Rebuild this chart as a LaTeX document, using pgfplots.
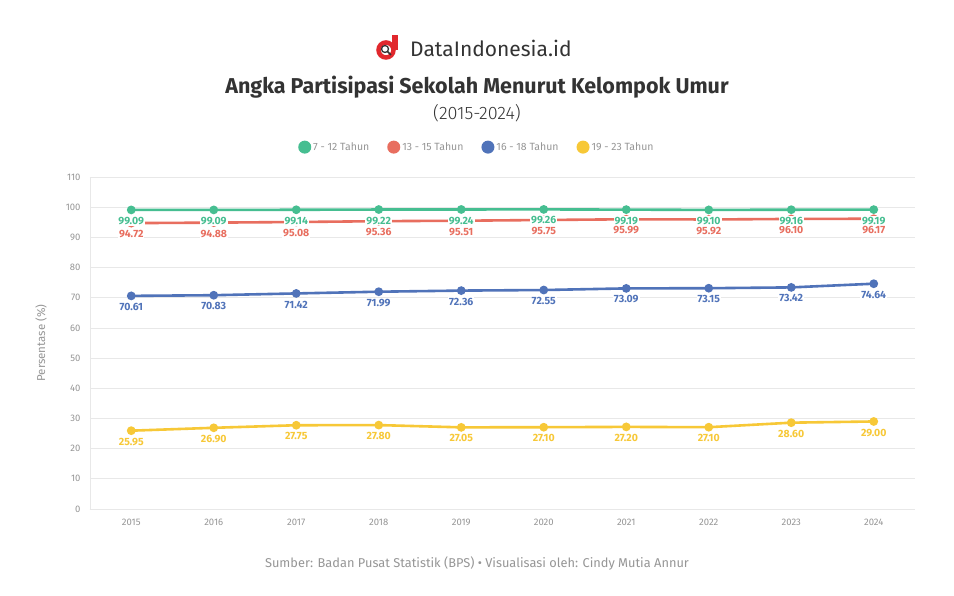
\documentclass[border=0pt]{standalone}
\usepackage{fontspec}
\setmainfont{Fira Sans}
\usepackage{pgfplots}
\pgfplotsset{compat=1.18}
\definecolor{cgreen}{RGB}{70,190,145}
\definecolor{cred}{RGB}{232,110,95}
\definecolor{cblue}{RGB}{80,115,185}
\definecolor{cyellow}{RGB}{247,200,55}
\definecolor{ctitle}{RGB}{51,51,51}
\definecolor{cgray}{RGB}{150,150,150}
\definecolor{cgrid}{RGB}{232,232,232}
\definecolor{clogo}{RGB}{225,40,45}
\pgfplotstableread{
x green red blue yellow
0 99.09 94.72 70.61 25.95
1 99.09 94.88 70.83 26.90
2 99.14 95.08 71.42 27.75
3 99.22 95.36 71.99 27.80
4 99.24 95.51 72.36 27.05
5 99.26 95.75 72.55 27.10
6 99.19 95.99 73.09 27.20
7 99.10 95.92 73.15 27.10
8 99.16 96.10 73.42 28.60
9 99.19 96.17 74.64 29.00
}\datatable
\begin{document}
\begin{tikzpicture}
\path[use as bounding box, fill=white] (0pt,0pt) rectangle (954pt,596pt);
% logo
\draw[clogo, line width=4.5pt] (386pt,546pt) circle (7.5pt);
\fill[clogo] (392pt,546pt) rectangle (397.5pt,561pt);
\draw[ctitle, line width=1.3pt] (385pt,547pt) circle (3.5pt);
\draw[ctitle, line width=1.6pt] (387.5pt,544.5pt) -- (391pt,541pt);
\node[anchor=west, font=\fontsize{21}{25}\selectfont, text=ctitle, inner sep=0pt] at (410pt,548pt) {DataIndonesia.id};
\node[font=\fontsize{21.5}{25}\selectfont\bfseries, text=ctitle] at (477pt,509pt) {Angka Partisipasi Sekolah Menurut Kelompok Umur};
\node[font=\fontsize{18}{21}\selectfont\fontspec{Fira Sans Light}, text=ctitle] at (477pt,483pt) {(2015-2024)};
\node[font=\fontsize{12.8}{15}\selectfont, text=cgray] at (477pt,33pt) {Sumber: Badan Pusat Statistik (BPS) • Visualisasi oleh: Cindy Mutia Annur};
\begin{axis}[
  at={(90pt,87pt)}, anchor=south west, scale only axis,
  width=825pt, height=332pt,
  xmin=-0.5, xmax=9.5, ymin=0, ymax=110,
  xtick={0,...,9},
  xticklabels={2015,2016,2017,2018,2019,2020,2021,2022,2023,2024},
  ytick={0,10,...,110},
  /pgf/number format/assume math mode=true,
  ticklabel style={font=\fontsize{9.5}{11}\selectfont, text=cgray},
  major tick length=0pt,
  ymajorgrids, grid style={cgrid, line width=0.8pt},
  axis line style={cgrid, line width=0.8pt},
  axis x line*=bottom, axis y line*=left,
  ylabel={Persentase (\%)},
  ylabel style={font=\fontsize{11.5}{13}\selectfont, text=cgray, yshift=12pt},
  xticklabel style={yshift=-7pt},
  yticklabel style={xshift=-6pt},
  legend columns=4,
  legend style={at={(0.469,1.09)}, anchor=center, draw=none, fill=none,
    font=\fontsize{10.5}{12}\selectfont, text=cgray,
    /tikz/every even column/.append style={column sep=16pt}},
  legend image code/.code={\fill[#1,draw=none] (0.2cm,0) circle (6.5pt);},
  every axis plot/.append style={line width=2.6pt, mark=*, mark size=3pt},
  nodes near coords={\pgfmathprintnumber[fixed,fixed zerofill,precision=2]{\pgfplotspointmeta}},
  every node near coord/.append style={anchor=north, yshift=-5pt, font=\fontsize{10.5}{12}\selectfont\bfseries, fill=white, inner sep=1pt},
]
\addlegendimage{cgreen}
\addlegendentry{7 - 12 Tahun}
\addlegendimage{cred}
\addlegendentry{13 - 15 Tahun}
\addlegendimage{cblue}
\addlegendentry{16 - 18 Tahun}
\addlegendimage{cyellow}
\addlegendentry{19 - 23 Tahun}
\addplot[forget plot, cred, mark options={fill=cred}, every node near coord/.append style={text=cred}] table[x=x,y=red] {\datatable};
\addplot[forget plot, cgreen, mark options={fill=cgreen}, every node near coord/.append style={text=cgreen}] table[x=x,y=green] {\datatable};
\addplot[forget plot, cblue, mark options={fill=cblue}, every node near coord/.append style={text=cblue}] table[x=x,y=blue] {\datatable};
\addplot[forget plot, cyellow, mark options={fill=cyellow}, every node near coord/.append style={text=cyellow}] table[x=x,y=yellow] {\datatable};
\end{axis}
\end{tikzpicture}
\end{document}
